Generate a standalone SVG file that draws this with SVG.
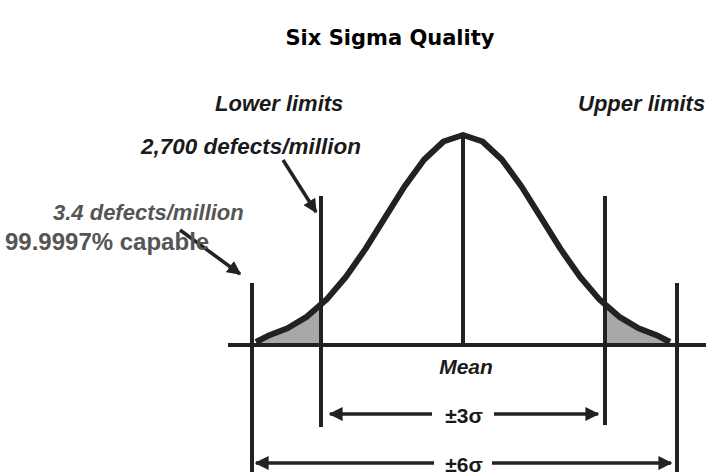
<svg xmlns="http://www.w3.org/2000/svg" width="710" height="476" viewBox="0 0 710 476">
<style>
.ln{stroke:#222;stroke-width:4;fill:none}
.t{font-family:"Liberation Sans",Arial,sans-serif;font-weight:bold;fill:#1a1a1a}
.i{font-style:italic}
</style>
<defs>
<marker id="ah" viewBox="0 0 10 10" refX="9" refY="5" markerWidth="4" markerHeight="4" orient="auto"><path d="M0,0L10,5L0,10z" fill="#222"/></marker>
</defs>
<rect width="710" height="476" fill="#fff"/>
<text x="390" y="45" text-anchor="middle" style="font-family:'DejaVu Sans',sans-serif;font-weight:bold;font-size:21px">Six Sigma Quality</text>
<g id="shading" fill="#a8a8a8">
<polygon points="256,343 268,336 287.5,328 307,317 321,305 321,345 256,345"/>
<polygon points="670,343 658,336 638.5,328 619,317 605,305 605,345 670,345"/>
</g>
<g id="axes" class="ln">
<line x1="228" y1="345" x2="706" y2="345"/>
<line x1="252" y1="283" x2="252" y2="472"/>
<line x1="321" y1="196" x2="321" y2="427"/>
<line x1="463" y1="135" x2="463" y2="345"/>
<line x1="605" y1="196" x2="605" y2="425"/>
<line x1="677" y1="283" x2="677" y2="472"/>
</g>
<g id="curve">
<polyline class="ln" style="stroke-width:6;stroke-linejoin:round" points="256,342 268,335.8 287.5,328.3 307,316.6 326.5,299.6 346,276.8 365.5,248.9 385,217.6 404.5,186.5 424,159.7 443.5,141.5 463,135 482.5,141.5 502,159.7 521.5,186.5 541,217.6 560.5,248.9 580,276.8 599.5,299.6 619,316.6 638.5,328.3 658,335.8 670,342"/>
</g>
<g id="connectors" class="ln" style="stroke-width:3.5">
<line x1="283" y1="160" x2="316" y2="212" marker-end="url(#ah)"/>
<line x1="180" y1="230" x2="240" y2="274" marker-end="url(#ah)"/>
<line x1="432" y1="414" x2="330" y2="414" marker-end="url(#ah)"/>
<line x1="494" y1="414" x2="598" y2="414" marker-end="url(#ah)"/>
<line x1="434" y1="463" x2="256" y2="463" marker-end="url(#ah)"/>
<line x1="492" y1="463" x2="671" y2="463" marker-end="url(#ah)"/>
</g>
<g id="labels">
<text class="t i" x="215" y="111" font-size="22">Lower limits</text>
<text class="t i" x="578" y="111" font-size="22">Upper limits</text>
<text class="t i" x="141" y="154" font-size="22.5">2,700 defects/million</text>
<text class="t i" x="53" y="220" font-size="22" style="fill:#555">3.4 defects/million</text>
<text class="t" x="5" y="250" font-size="24" style="fill:#555">99.9997% capable</text>
<text class="t i" x="466" y="374" font-size="21" text-anchor="middle">Mean</text>
<text class="t" x="464" y="423" font-size="21" text-anchor="middle">±3σ</text>
<text class="t" x="464" y="472" font-size="21" text-anchor="middle">±6σ</text>
</g>
</svg>
